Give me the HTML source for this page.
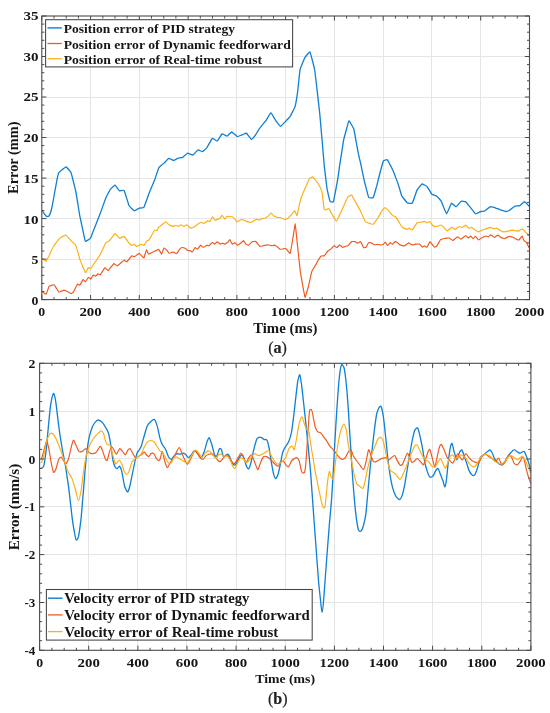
<!DOCTYPE html>
<html><head><meta charset="utf-8"><title>Figure</title>
<style>html,body{margin:0;padding:0;background:#fff}svg{display:block}</style></head>
<body>
<svg width="550" height="713" viewBox="0 0 550 713" fill="#161616">
<rect width="550" height="713" fill="#fff"/>
<line x1="90.5" y1="16.0" x2="90.5" y2="299.6" stroke="#e5e5e5" stroke-width="1"/>
<line x1="139.5" y1="16.0" x2="139.5" y2="299.6" stroke="#e5e5e5" stroke-width="1"/>
<line x1="188.5" y1="16.0" x2="188.5" y2="299.6" stroke="#e5e5e5" stroke-width="1"/>
<line x1="236.5" y1="16.0" x2="236.5" y2="299.6" stroke="#e5e5e5" stroke-width="1"/>
<line x1="285.5" y1="16.0" x2="285.5" y2="299.6" stroke="#e5e5e5" stroke-width="1"/>
<line x1="334.5" y1="16.0" x2="334.5" y2="299.6" stroke="#e5e5e5" stroke-width="1"/>
<line x1="383.5" y1="16.0" x2="383.5" y2="299.6" stroke="#e5e5e5" stroke-width="1"/>
<line x1="431.5" y1="16.0" x2="431.5" y2="299.6" stroke="#e5e5e5" stroke-width="1"/>
<line x1="480.5" y1="16.0" x2="480.5" y2="299.6" stroke="#e5e5e5" stroke-width="1"/>
<line x1="41.8" y1="259.5" x2="529.5" y2="259.5" stroke="#e5e5e5" stroke-width="1"/>
<line x1="41.8" y1="218.5" x2="529.5" y2="218.5" stroke="#e5e5e5" stroke-width="1"/>
<line x1="41.8" y1="178.5" x2="529.5" y2="178.5" stroke="#e5e5e5" stroke-width="1"/>
<line x1="41.8" y1="137.5" x2="529.5" y2="137.5" stroke="#e5e5e5" stroke-width="1"/>
<line x1="41.8" y1="97.5" x2="529.5" y2="97.5" stroke="#e5e5e5" stroke-width="1"/>
<line x1="41.8" y1="56.5" x2="529.5" y2="56.5" stroke="#e5e5e5" stroke-width="1"/>
<g fill="none" stroke-linejoin="round" stroke-linecap="round">
<path d="M42.7,211.4 C42.8,211.5 44.8,214.6 45.0,214.8 C45.2,215.0 46.7,216.5 46.8,216.6 C47.0,216.6 48.9,216.2 49.1,215.9 C49.3,215.6 51.2,210.4 51.4,209.5 C51.6,208.7 53.9,196.7 54.1,195.5 C54.3,194.3 56.9,180.5 57.0,179.5 C57.2,178.6 58.6,173.1 58.9,172.7 C59.1,172.3 62.4,169.6 62.7,169.3 C63.0,169.1 65.8,166.7 66.1,166.8 C66.5,167.0 70.7,171.7 71.1,172.7 C71.5,173.7 75.6,190.3 75.9,192.0 C76.3,193.8 79.5,214.3 79.8,215.9 C80.1,217.5 83.0,230.8 83.2,231.8 C83.4,232.8 85.2,241.1 85.5,241.4 C85.7,241.6 90.0,238.8 90.5,238.2 C90.9,237.5 95.3,226.0 95.7,225.0 C96.1,224.0 99.8,214.7 100.2,213.6 C100.6,212.5 105.5,198.7 105.9,197.7 C106.3,196.7 110.1,189.6 110.5,189.1 C110.8,188.6 114.6,185.2 115.0,185.2 C115.4,185.3 119.2,190.7 119.5,190.9 C119.9,191.1 123.7,189.9 124.1,190.5 C124.5,191.0 128.7,204.9 129.1,205.7 C129.5,206.5 133.9,210.8 134.3,210.9 C134.7,211.0 138.9,208.3 139.3,208.2 C139.7,208.0 143.5,207.9 143.9,207.3 C144.3,206.7 148.7,194.3 149.1,193.2 C149.5,192.1 154.4,180.5 154.8,179.5 C155.2,178.5 158.3,168.8 158.6,168.2 C159.0,167.5 163.8,163.3 164.2,163.0 C164.6,162.6 168.3,158.5 168.6,158.4 C169.0,158.3 173.3,160.5 173.6,160.5 C174.0,160.4 177.8,158.3 178.2,158.2 C178.5,158.1 182.3,157.5 182.7,157.3 C183.1,157.1 187.3,153.3 187.7,153.2 C188.1,153.1 192.5,155.1 193.0,155.0 C193.4,154.9 197.6,149.9 198.0,149.8 C198.3,149.6 202.1,151.7 202.5,151.6 C202.9,151.5 206.7,148.0 207.0,147.5 C207.4,147.0 211.9,138.7 212.3,138.4 C212.7,138.2 216.9,141.3 217.3,141.1 C217.7,141.0 221.7,134.1 222.0,133.9 C222.4,133.7 226.7,136.2 227.0,136.1 C227.4,136.1 231.4,132.0 231.8,132.0 C232.2,132.1 236.9,136.5 237.3,136.6 C237.7,136.7 241.5,135.1 241.8,135.0 C242.2,134.9 246.0,133.0 246.4,133.2 C246.8,133.4 251.2,139.5 251.6,139.5 C252.0,139.6 255.1,135.5 255.5,135.0 C255.8,134.5 260.7,126.9 261.1,126.4 C261.5,125.8 265.3,121.5 265.7,120.9 C266.1,120.4 270.5,112.7 270.9,112.7 C271.3,112.7 275.5,120.4 275.9,120.9 C276.3,121.5 280.1,126.3 280.5,126.4 C280.8,126.4 284.0,123.0 284.4,122.6 C284.8,122.2 289.8,117.0 290.2,116.4 C290.7,115.7 294.9,107.1 295.2,106.1 C295.5,105.1 297.5,92.8 297.7,91.4 C297.9,89.9 299.7,71.1 300.0,69.8 C300.3,68.4 304.6,58.0 305.0,57.3 C305.4,56.6 309.6,51.5 310.0,52.0 C310.4,52.6 314.4,68.0 314.8,70.5 C315.2,72.9 319.4,110.3 319.8,114.1 C320.2,117.9 324.0,163.2 324.3,166.1 C324.6,169.1 326.8,187.2 327.0,188.6 C327.3,190.0 329.7,200.6 330.0,201.1 C330.3,201.7 333.1,202.5 333.4,201.8 C333.7,201.1 336.6,185.5 336.8,184.1 C337.1,182.7 339.3,168.1 339.5,166.4 C339.8,164.6 343.3,142.0 343.6,140.2 C344.0,138.4 348.5,121.3 348.9,120.9 C349.3,120.5 353.5,128.0 353.9,129.3 C354.2,130.6 358.1,152.5 358.4,153.9 C358.7,155.2 360.4,162.5 360.7,163.6 C360.9,164.8 364.2,180.5 364.5,181.8 C364.9,183.2 368.3,196.6 368.6,197.3 C369.0,197.9 372.9,198.2 373.2,197.7 C373.5,197.3 376.3,187.4 376.6,186.4 C376.9,185.4 379.7,173.7 380.0,172.7 C380.3,171.7 383.1,161.4 383.4,160.9 C383.7,160.4 386.9,159.4 387.3,159.8 C387.7,160.2 392.5,169.5 393.0,170.5 C393.4,171.4 397.8,183.1 398.2,184.1 C398.5,185.1 401.4,194.9 401.6,195.5 C401.8,196.0 402.7,197.2 402.9,197.5 C403.2,197.8 407.0,202.7 407.4,202.9 C407.7,203.1 411.9,203.7 412.3,203.1 C412.7,202.6 416.8,190.4 417.2,189.6 C417.6,188.9 421.7,184.1 422.1,184.0 C422.5,183.9 426.6,186.0 427.0,186.5 C427.4,186.9 431.5,193.9 431.9,194.3 C432.3,194.7 436.4,196.0 436.8,196.3 C437.2,196.5 440.8,200.5 441.2,201.2 C441.6,201.9 446.2,213.9 446.6,213.9 C447.0,214.0 451.2,203.4 451.5,203.1 C451.9,202.9 455.6,206.9 456.0,206.8 C456.4,206.7 461.0,201.4 461.4,201.2 C461.8,201.0 465.4,201.6 465.8,201.9 C466.2,202.2 470.8,208.1 471.2,208.5 C471.6,209.0 475.2,213.8 475.6,213.9 C476.0,214.1 480.6,211.6 481.0,211.5 C481.4,211.4 484.3,211.2 484.7,211.0 C485.1,210.8 489.9,206.7 490.3,206.6 C490.8,206.5 495.3,207.9 495.7,208.1 C496.1,208.2 500.2,209.6 500.6,209.8 C501.0,209.9 505.2,211.5 505.5,211.5 C505.9,211.5 508.9,210.7 509.2,210.5 C509.6,210.3 514.5,206.3 514.9,206.1 C515.3,205.9 519.4,205.8 519.8,205.6 C520.2,205.4 524.1,201.7 524.4,201.7 C524.8,201.7 528.9,205.9 529.1,206.1" stroke="#1080d6" stroke-width="1.32"/>
<path d="M42.7,292.0 C42.9,292.1 45.9,294.5 46.1,294.3 C46.4,294.1 48.8,286.7 49.1,286.4 C49.4,286.0 53.7,284.5 54.1,284.8 C54.5,285.0 58.5,291.8 58.9,292.0 C59.3,292.3 63.5,290.2 63.9,290.2 C64.2,290.2 68.1,291.9 68.4,292.0 C68.7,292.2 70.9,293.6 71.1,293.6 C71.3,293.6 73.2,292.4 73.4,292.0 C73.7,291.7 77.2,284.4 77.5,284.1 C77.8,283.8 79.5,285.4 79.8,285.2 C80.0,285.0 83.0,279.7 83.2,279.5 C83.4,279.4 85.2,281.9 85.5,281.8 C85.7,281.7 88.2,277.4 88.4,277.3 C88.6,277.2 90.3,279.2 90.5,279.1 C90.7,279.0 93.2,275.1 93.4,275.0 C93.6,274.9 95.5,276.2 95.7,276.1 C95.9,276.1 97.8,273.9 98.0,273.9 C98.1,273.8 100.0,275.2 100.2,275.0 C100.5,274.8 104.5,267.9 104.8,267.7 C105.1,267.5 107.8,270.6 108.2,270.5 C108.5,270.3 113.5,263.8 113.9,263.6 C114.2,263.5 116.9,266.0 117.3,265.9 C117.7,265.8 123.7,260.4 124.1,260.2 C124.5,260.1 126.5,262.0 126.8,261.8 C127.1,261.6 131.7,255.9 132.0,255.7 C132.3,255.5 134.0,256.9 134.3,256.8 C134.6,256.7 138.9,253.4 139.3,253.4 C139.7,253.5 143.6,258.1 143.9,258.0 C144.1,257.8 146.2,250.2 146.4,250.0 C146.6,249.8 148.3,254.0 148.6,254.1 C149.0,254.1 154.4,251.3 154.8,251.1 C155.2,250.9 158.4,249.2 158.6,249.3 C158.9,249.4 161.4,254.1 161.6,254.1 C161.8,254.0 163.7,248.4 163.9,248.2 C164.1,248.0 166.2,249.6 166.4,249.8 C166.6,250.0 168.8,253.1 169.1,253.2 C169.3,253.3 172.3,252.1 172.5,252.0 C172.7,252.0 174.6,252.7 174.8,252.7 C175.0,252.8 176.8,253.4 177.0,253.2 C177.3,253.0 180.2,248.4 180.5,248.2 C180.7,248.0 182.5,247.5 182.7,247.5 C182.9,247.5 184.8,248.1 185.0,248.2 C185.2,248.3 187.5,250.3 187.7,250.5 C188.0,250.6 190.5,250.8 190.7,250.9 C190.9,251.0 192.1,252.2 192.3,252.0 C192.5,251.9 195.0,247.6 195.2,247.5 C195.4,247.4 197.3,249.4 197.5,249.3 C197.7,249.2 200.2,245.3 200.5,245.2 C200.7,245.2 202.9,247.5 203.2,247.5 C203.4,247.5 206.8,245.3 207.0,245.2 C207.3,245.2 208.7,246.0 208.9,245.9 C209.1,245.8 212.0,242.3 212.3,242.3 C212.5,242.2 214.3,244.1 214.5,244.1 C214.7,244.1 217.0,241.8 217.3,241.8 C217.5,241.8 220.0,244.0 220.2,244.1 C220.4,244.1 222.3,243.0 222.5,243.0 C222.7,243.0 224.5,244.1 224.8,244.1 C225.0,244.0 228.0,242.0 228.2,241.8 C228.4,241.6 229.6,239.5 229.8,239.5 C229.9,239.6 232.1,244.0 232.3,244.1 C232.5,244.2 234.8,242.5 235.0,242.5 C235.2,242.5 237.1,245.2 237.3,245.2 C237.5,245.3 239.3,244.3 239.5,244.1 C239.8,243.9 243.4,240.7 243.6,240.7 C243.9,240.7 245.7,243.9 245.9,244.1 C246.1,244.3 248.4,245.3 248.6,245.2 C248.9,245.1 251.8,242.0 252.0,241.8 C252.3,241.7 255.1,241.2 255.5,241.4 C255.8,241.5 259.7,246.2 260.0,246.4 C260.3,246.5 263.1,245.7 263.4,245.7 C263.7,245.6 267.6,244.8 268.0,244.8 C268.3,244.8 271.1,245.7 271.4,245.7 C271.6,245.7 274.5,245.2 274.8,245.2 C275.0,245.3 278.0,247.3 278.2,247.5 C278.4,247.7 279.8,249.3 280.0,249.3 C280.2,249.4 283.2,248.9 283.4,248.9 C283.6,248.8 285.4,248.2 285.7,248.4 C286.0,248.6 289.9,253.9 290.2,253.4 C290.5,252.9 293.0,237.5 293.2,236.4 C293.4,235.2 295.1,223.7 295.2,223.9 C295.4,224.0 296.8,239.0 297.0,240.9 C297.3,242.9 300.1,270.5 300.5,272.7 C300.8,275.0 304.7,296.7 305.0,297.3 C305.3,297.8 308.1,287.4 308.4,286.4 C308.7,285.3 311.5,272.5 311.8,271.6 C312.1,270.7 316.0,264.3 316.4,263.6 C316.7,263.0 320.6,256.5 320.9,256.1 C321.2,255.8 324.0,255.9 324.3,255.7 C324.6,255.5 327.5,251.4 327.7,251.1 C328.0,250.9 330.9,249.1 331.1,248.9 C331.4,248.6 333.9,245.5 334.1,245.5 C334.3,245.4 336.6,247.8 336.8,247.7 C337.0,247.7 339.3,244.8 339.5,244.8 C339.8,244.8 342.2,247.2 342.5,247.3 C342.8,247.3 347.8,245.7 348.2,245.5 C348.5,245.2 351.3,241.7 351.6,241.6 C351.9,241.4 354.8,241.5 355.0,241.6 C355.2,241.7 357.0,243.2 357.3,243.2 C357.5,243.2 360.4,241.4 360.7,241.6 C360.9,241.8 363.4,247.5 363.6,247.7 C363.8,248.0 365.7,247.5 365.9,247.3 C366.1,247.1 368.4,242.9 368.6,242.7 C368.8,242.5 370.7,242.6 370.9,242.7 C371.1,242.8 374.0,244.7 374.3,244.8 C374.6,244.8 377.5,244.3 377.7,244.3 C378.0,244.3 380.9,245.0 381.1,245.0 C381.4,245.0 383.2,244.4 383.4,244.3 C383.6,244.2 385.1,242.0 385.2,242.0 C385.4,242.1 387.3,245.4 387.5,245.5 C387.7,245.5 390.0,242.8 390.2,242.7 C390.4,242.7 392.3,244.4 392.5,244.3 C392.7,244.3 395.0,241.4 395.2,241.4 C395.5,241.3 398.0,243.0 398.2,243.2 C398.4,243.3 399.8,244.8 400.0,244.9 C400.2,245.0 404.1,245.9 404.4,245.9 C404.8,245.8 408.3,242.9 408.6,242.9 C408.9,242.9 412.0,244.8 412.3,244.9 C412.6,244.9 415.7,244.2 416.0,244.1 C416.2,244.1 419.4,244.0 419.6,244.1 C419.9,244.3 421.9,247.0 422.1,247.1 C422.3,247.2 424.3,245.8 424.5,245.9 C424.7,245.9 426.8,247.5 427.0,247.3 C427.2,247.2 429.7,241.7 429.9,241.7 C430.2,241.7 434.1,246.9 434.4,247.1 C434.6,247.3 436.6,246.4 436.8,246.1 C437.1,245.8 440.2,240.0 440.5,239.7 C440.8,239.4 443.8,238.6 444.2,238.5 C444.5,238.4 448.7,237.9 449.1,238.0 C449.4,238.1 452.4,240.5 452.8,240.5 C453.1,240.4 457.4,236.8 457.7,236.8 C458.0,236.7 460.5,239.3 460.9,239.2 C461.2,239.2 465.5,235.6 465.8,235.5 C466.1,235.5 468.0,238.0 468.2,238.0 C468.4,238.0 470.5,236.0 470.7,236.0 C470.9,236.1 472.9,238.7 473.1,238.7 C473.3,238.7 475.4,236.2 475.6,236.3 C475.8,236.3 478.3,239.9 478.5,240.0 C478.8,240.0 481.9,237.7 482.2,237.5 C482.5,237.4 485.7,236.1 485.9,236.0 C486.2,236.0 488.2,236.8 488.4,236.8 C488.5,236.7 490.1,234.8 490.3,234.8 C490.6,234.8 494.2,237.3 494.5,237.3 C494.8,237.3 497.4,235.1 497.7,235.1 C497.9,235.1 500.4,237.1 500.6,237.3 C500.9,237.4 504.0,238.8 504.3,238.7 C504.7,238.7 508.9,236.3 509.2,236.3 C509.6,236.2 512.6,237.1 512.9,237.3 C513.2,237.4 516.3,239.1 516.6,239.2 C516.8,239.3 518.8,240.1 519.0,240.0 C519.3,239.8 521.8,236.0 522.0,236.0 C522.2,236.1 523.8,240.2 524.0,240.5 C524.1,240.7 526.2,242.1 526.4,242.4 C526.6,242.7 529.0,247.6 529.1,247.8" stroke="#f2581d" stroke-width="1.18"/>
<path d="M42.7,258.6 C42.9,258.7 45.9,261.5 46.1,261.4 C46.4,261.2 48.8,256.3 49.1,255.7 C49.4,255.0 53.7,246.1 54.1,245.5 C54.5,244.8 59.0,239.0 59.3,238.6 C59.7,238.3 62.5,236.5 62.7,236.4 C63.0,236.2 65.8,235.0 66.1,235.2 C66.5,235.4 70.7,240.5 71.1,240.9 C71.5,241.3 75.6,244.7 75.9,245.5 C76.3,246.2 79.4,258.0 79.8,259.1 C80.2,260.2 85.1,272.4 85.5,272.7 C85.8,273.1 88.2,267.7 88.4,267.5 C88.6,267.3 90.2,268.9 90.5,268.6 C90.7,268.4 95.3,261.9 95.7,261.4 C96.1,260.8 99.8,255.3 100.2,254.5 C100.6,253.8 105.5,243.3 105.9,242.7 C106.3,242.2 109.0,241.3 109.3,240.9 C109.7,240.5 114.6,233.7 115.0,233.6 C115.4,233.5 119.2,238.1 119.5,238.2 C119.9,238.3 123.7,236.2 124.1,236.4 C124.5,236.6 128.8,242.8 129.1,243.2 C129.4,243.5 131.8,245.4 132.0,245.5 C132.3,245.5 134.1,244.3 134.3,244.3 C134.5,244.4 136.3,246.6 136.6,246.6 C136.9,246.6 140.8,244.4 141.1,244.3 C141.4,244.3 143.6,245.6 143.9,245.5 C144.1,245.3 146.6,241.1 146.8,240.9 C147.0,240.7 148.8,240.2 149.1,239.8 C149.4,239.3 154.5,230.4 154.8,230.0 C155.1,229.6 156.9,230.8 157.0,230.7 C157.2,230.6 158.5,227.5 158.6,227.3 C158.8,227.0 161.4,225.2 161.6,225.0 C161.8,224.8 163.7,223.3 163.9,223.2 C164.0,223.1 165.5,221.8 165.7,221.8 C165.9,221.9 168.8,224.6 169.1,224.8 C169.4,225.0 172.2,226.3 172.5,226.4 C172.8,226.4 175.7,225.5 175.9,225.5 C176.1,225.5 178.0,226.4 178.2,226.4 C178.4,226.3 180.7,224.8 180.9,224.8 C181.1,224.8 183.6,226.4 183.9,226.4 C184.1,226.4 186.5,224.7 186.8,224.8 C187.1,224.8 190.4,228.1 190.7,228.2 C191.0,228.3 193.8,227.2 194.1,227.0 C194.4,226.9 197.2,224.5 197.5,224.3 C197.8,224.1 200.6,222.5 200.9,222.5 C201.2,222.5 204.0,223.2 204.3,223.2 C204.6,223.1 207.5,221.0 207.7,220.9 C208.0,220.8 209.8,221.5 210.0,221.4 C210.2,221.2 212.5,216.9 212.7,216.8 C212.9,216.8 214.8,220.1 215.0,220.2 C215.2,220.3 217.7,219.2 218.0,219.1 C218.2,219.0 220.1,218.6 220.2,218.4 C220.4,218.2 221.9,215.0 222.0,215.0 C222.2,215.0 224.6,219.0 224.8,219.1 C225.0,219.1 226.7,216.5 227.0,216.4 C227.3,216.3 232.0,216.7 232.3,216.8 C232.6,216.9 234.8,218.9 235.0,219.1 C235.2,219.3 236.6,222.0 236.8,222.0 C237.0,222.1 239.3,220.3 239.5,220.2 C239.8,220.1 242.7,219.7 243.0,219.8 C243.2,219.8 246.0,221.3 246.4,221.4 C246.7,221.5 250.6,222.5 250.9,222.5 C251.2,222.5 253.4,221.0 253.6,220.9 C253.9,220.8 256.4,219.1 256.6,219.1 C256.8,219.1 258.6,220.2 258.9,220.2 C259.1,220.2 262.0,218.7 262.3,218.6 C262.5,218.5 264.8,218.0 265.0,218.0 C265.2,217.9 267.7,216.6 268.0,216.4 C268.2,216.2 270.7,213.0 270.9,213.0 C271.1,212.9 273.4,215.5 273.6,215.7 C273.9,215.9 276.8,217.2 277.0,217.3 C277.3,217.3 279.9,217.4 280.2,217.5 C280.5,217.6 284.2,219.3 284.5,219.3 C284.9,219.3 287.7,218.4 288.0,218.2 C288.2,218.0 291.1,215.1 291.4,214.8 C291.6,214.5 294.5,210.9 294.8,210.9 C295.0,210.9 296.8,215.9 297.0,215.5 C297.3,215.0 300.1,201.1 300.5,200.0 C300.8,198.9 304.6,189.5 305.0,188.6 C305.4,187.8 309.2,178.9 309.5,178.4 C309.8,177.9 312.3,176.8 312.5,176.8 C312.7,176.9 314.9,179.2 315.2,179.5 C315.5,179.9 319.5,185.9 319.8,186.4 C320.0,186.9 321.9,191.1 322.0,192.0 C322.2,193.0 324.0,209.1 324.3,209.8 C324.6,210.4 328.5,208.4 328.9,208.6 C329.2,208.8 332.0,214.3 332.3,214.8 C332.6,215.3 336.0,221.2 336.4,221.1 C336.7,221.1 339.9,214.3 340.2,213.6 C340.6,212.9 344.5,204.1 344.8,203.4 C345.1,202.7 347.9,196.9 348.2,196.6 C348.5,196.3 351.3,194.8 351.6,195.0 C351.9,195.2 354.6,200.5 355.0,201.1 C355.4,201.8 360.3,210.5 360.7,211.4 C361.1,212.2 364.9,221.1 365.2,221.6 C365.6,222.1 369.5,223.3 369.8,223.4 C370.1,223.5 372.9,224.5 373.2,224.3 C373.5,224.1 377.4,218.7 377.7,218.2 C378.1,217.6 382.0,210.7 382.3,210.2 C382.6,209.8 385.0,207.5 385.2,207.5 C385.5,207.5 388.8,211.0 389.1,211.4 C389.4,211.7 392.2,215.2 392.5,215.5 C392.8,215.7 395.6,216.8 395.9,217.0 C396.2,217.3 399.0,222.3 399.3,222.7 C399.6,223.2 402.6,227.4 402.9,227.7 C403.3,228.0 407.1,229.4 407.4,229.4 C407.6,229.4 409.1,228.2 409.3,228.2 C409.5,228.2 412.0,230.1 412.3,229.9 C412.6,229.7 416.8,223.1 417.2,222.8 C417.6,222.5 421.8,222.1 422.1,222.0 C422.4,222.0 424.3,221.3 424.5,221.3 C424.7,221.3 426.8,222.8 427.0,222.8 C427.2,222.8 429.2,221.4 429.5,221.6 C429.7,221.7 432.8,225.5 433.1,225.7 C433.4,225.9 436.5,226.5 436.8,226.5 C437.1,226.4 440.9,224.9 441.2,225.0 C441.5,225.0 443.9,227.4 444.2,227.7 C444.4,227.9 446.8,231.1 447.1,231.1 C447.4,231.1 451.2,227.5 451.5,227.4 C451.9,227.4 454.9,229.4 455.2,229.4 C455.5,229.4 458.6,226.5 458.9,226.5 C459.2,226.4 462.3,227.5 462.6,227.4 C462.9,227.4 465.5,225.2 465.8,225.2 C466.0,225.3 468.5,228.1 468.7,228.2 C469.0,228.3 471.4,227.4 471.7,227.4 C471.9,227.5 474.6,229.7 474.9,229.9 C475.1,230.1 478.3,231.9 478.5,231.9 C478.8,231.9 481.9,230.3 482.2,230.1 C482.5,230.0 485.6,229.0 485.9,228.9 C486.2,228.8 490.0,227.5 490.3,227.4 C490.6,227.4 493.0,228.6 493.3,228.7 C493.5,228.7 496.7,228.1 497.0,228.2 C497.2,228.3 500.4,230.5 500.6,230.6 C500.9,230.8 502.8,231.8 503.1,231.9 C503.4,231.9 507.7,231.2 508.0,231.1 C508.3,231.1 511.4,230.2 511.7,230.1 C512.0,230.1 515.1,230.6 515.4,230.6 C515.6,230.7 518.3,231.2 518.6,231.1 C518.8,231.0 521.7,228.6 522.0,228.7 C522.3,228.7 524.9,231.6 525.2,231.9 C525.5,232.1 529.0,235.4 529.1,235.5" stroke="#fbb017" stroke-width="1.18"/>
</g>
<path d="M41.8,299.6v-4.6M41.8,16.0v4.6" stroke="#4a4a4a" stroke-width="1" fill="none"/>
<path d="M90.6,299.6v-4.6M90.6,16.0v4.6" stroke="#4a4a4a" stroke-width="1" fill="none"/>
<path d="M139.3,299.6v-4.6M139.3,16.0v4.6" stroke="#4a4a4a" stroke-width="1" fill="none"/>
<path d="M188.1,299.6v-4.6M188.1,16.0v4.6" stroke="#4a4a4a" stroke-width="1" fill="none"/>
<path d="M236.9,299.6v-4.6M236.9,16.0v4.6" stroke="#4a4a4a" stroke-width="1" fill="none"/>
<path d="M285.6,299.6v-4.6M285.6,16.0v4.6" stroke="#4a4a4a" stroke-width="1" fill="none"/>
<path d="M334.4,299.6v-4.6M334.4,16.0v4.6" stroke="#4a4a4a" stroke-width="1" fill="none"/>
<path d="M383.2,299.6v-4.6M383.2,16.0v4.6" stroke="#4a4a4a" stroke-width="1" fill="none"/>
<path d="M432.0,299.6v-4.6M432.0,16.0v4.6" stroke="#4a4a4a" stroke-width="1" fill="none"/>
<path d="M480.7,299.6v-4.6M480.7,16.0v4.6" stroke="#4a4a4a" stroke-width="1" fill="none"/>
<path d="M529.5,299.6v-4.6M529.5,16.0v4.6" stroke="#4a4a4a" stroke-width="1" fill="none"/>
<path d="M54.0,299.6v-2.5M54.0,16.0v2.5" stroke="#4a4a4a" stroke-width="1" fill="none"/>
<path d="M66.2,299.6v-2.5M66.2,16.0v2.5" stroke="#4a4a4a" stroke-width="1" fill="none"/>
<path d="M78.4,299.6v-2.5M78.4,16.0v2.5" stroke="#4a4a4a" stroke-width="1" fill="none"/>
<path d="M102.8,299.6v-2.5M102.8,16.0v2.5" stroke="#4a4a4a" stroke-width="1" fill="none"/>
<path d="M115.0,299.6v-2.5M115.0,16.0v2.5" stroke="#4a4a4a" stroke-width="1" fill="none"/>
<path d="M127.1,299.6v-2.5M127.1,16.0v2.5" stroke="#4a4a4a" stroke-width="1" fill="none"/>
<path d="M151.5,299.6v-2.5M151.5,16.0v2.5" stroke="#4a4a4a" stroke-width="1" fill="none"/>
<path d="M163.7,299.6v-2.5M163.7,16.0v2.5" stroke="#4a4a4a" stroke-width="1" fill="none"/>
<path d="M175.9,299.6v-2.5M175.9,16.0v2.5" stroke="#4a4a4a" stroke-width="1" fill="none"/>
<path d="M200.3,299.6v-2.5M200.3,16.0v2.5" stroke="#4a4a4a" stroke-width="1" fill="none"/>
<path d="M212.5,299.6v-2.5M212.5,16.0v2.5" stroke="#4a4a4a" stroke-width="1" fill="none"/>
<path d="M224.7,299.6v-2.5M224.7,16.0v2.5" stroke="#4a4a4a" stroke-width="1" fill="none"/>
<path d="M249.1,299.6v-2.5M249.1,16.0v2.5" stroke="#4a4a4a" stroke-width="1" fill="none"/>
<path d="M261.3,299.6v-2.5M261.3,16.0v2.5" stroke="#4a4a4a" stroke-width="1" fill="none"/>
<path d="M273.5,299.6v-2.5M273.5,16.0v2.5" stroke="#4a4a4a" stroke-width="1" fill="none"/>
<path d="M297.8,299.6v-2.5M297.8,16.0v2.5" stroke="#4a4a4a" stroke-width="1" fill="none"/>
<path d="M310.0,299.6v-2.5M310.0,16.0v2.5" stroke="#4a4a4a" stroke-width="1" fill="none"/>
<path d="M322.2,299.6v-2.5M322.2,16.0v2.5" stroke="#4a4a4a" stroke-width="1" fill="none"/>
<path d="M346.6,299.6v-2.5M346.6,16.0v2.5" stroke="#4a4a4a" stroke-width="1" fill="none"/>
<path d="M358.8,299.6v-2.5M358.8,16.0v2.5" stroke="#4a4a4a" stroke-width="1" fill="none"/>
<path d="M371.0,299.6v-2.5M371.0,16.0v2.5" stroke="#4a4a4a" stroke-width="1" fill="none"/>
<path d="M395.4,299.6v-2.5M395.4,16.0v2.5" stroke="#4a4a4a" stroke-width="1" fill="none"/>
<path d="M407.6,299.6v-2.5M407.6,16.0v2.5" stroke="#4a4a4a" stroke-width="1" fill="none"/>
<path d="M419.8,299.6v-2.5M419.8,16.0v2.5" stroke="#4a4a4a" stroke-width="1" fill="none"/>
<path d="M444.2,299.6v-2.5M444.2,16.0v2.5" stroke="#4a4a4a" stroke-width="1" fill="none"/>
<path d="M456.3,299.6v-2.5M456.3,16.0v2.5" stroke="#4a4a4a" stroke-width="1" fill="none"/>
<path d="M468.5,299.6v-2.5M468.5,16.0v2.5" stroke="#4a4a4a" stroke-width="1" fill="none"/>
<path d="M492.9,299.6v-2.5M492.9,16.0v2.5" stroke="#4a4a4a" stroke-width="1" fill="none"/>
<path d="M505.1,299.6v-2.5M505.1,16.0v2.5" stroke="#4a4a4a" stroke-width="1" fill="none"/>
<path d="M517.3,299.6v-2.5M517.3,16.0v2.5" stroke="#4a4a4a" stroke-width="1" fill="none"/>
<path d="M41.8,299.6h4.6M529.5,299.6h-4.6" stroke="#4a4a4a" stroke-width="1" fill="none"/>
<path d="M41.8,259.1h4.6M529.5,259.1h-4.6" stroke="#4a4a4a" stroke-width="1" fill="none"/>
<path d="M41.8,218.6h4.6M529.5,218.6h-4.6" stroke="#4a4a4a" stroke-width="1" fill="none"/>
<path d="M41.8,178.1h4.6M529.5,178.1h-4.6" stroke="#4a4a4a" stroke-width="1" fill="none"/>
<path d="M41.8,137.5h4.6M529.5,137.5h-4.6" stroke="#4a4a4a" stroke-width="1" fill="none"/>
<path d="M41.8,97.0h4.6M529.5,97.0h-4.6" stroke="#4a4a4a" stroke-width="1" fill="none"/>
<path d="M41.8,56.5h4.6M529.5,56.5h-4.6" stroke="#4a4a4a" stroke-width="1" fill="none"/>
<path d="M41.8,16.0h4.6M529.5,16.0h-4.6" stroke="#4a4a4a" stroke-width="1" fill="none"/>
<path d="M41.8,291.5h2.5M529.5,291.5h-2.5" stroke="#4a4a4a" stroke-width="1" fill="none"/>
<path d="M41.8,283.4h2.5M529.5,283.4h-2.5" stroke="#4a4a4a" stroke-width="1" fill="none"/>
<path d="M41.8,275.3h2.5M529.5,275.3h-2.5" stroke="#4a4a4a" stroke-width="1" fill="none"/>
<path d="M41.8,267.2h2.5M529.5,267.2h-2.5" stroke="#4a4a4a" stroke-width="1" fill="none"/>
<path d="M41.8,251.0h2.5M529.5,251.0h-2.5" stroke="#4a4a4a" stroke-width="1" fill="none"/>
<path d="M41.8,242.9h2.5M529.5,242.9h-2.5" stroke="#4a4a4a" stroke-width="1" fill="none"/>
<path d="M41.8,234.8h2.5M529.5,234.8h-2.5" stroke="#4a4a4a" stroke-width="1" fill="none"/>
<path d="M41.8,226.7h2.5M529.5,226.7h-2.5" stroke="#4a4a4a" stroke-width="1" fill="none"/>
<path d="M41.8,210.5h2.5M529.5,210.5h-2.5" stroke="#4a4a4a" stroke-width="1" fill="none"/>
<path d="M41.8,202.4h2.5M529.5,202.4h-2.5" stroke="#4a4a4a" stroke-width="1" fill="none"/>
<path d="M41.8,194.3h2.5M529.5,194.3h-2.5" stroke="#4a4a4a" stroke-width="1" fill="none"/>
<path d="M41.8,186.2h2.5M529.5,186.2h-2.5" stroke="#4a4a4a" stroke-width="1" fill="none"/>
<path d="M41.8,170.0h2.5M529.5,170.0h-2.5" stroke="#4a4a4a" stroke-width="1" fill="none"/>
<path d="M41.8,161.9h2.5M529.5,161.9h-2.5" stroke="#4a4a4a" stroke-width="1" fill="none"/>
<path d="M41.8,153.7h2.5M529.5,153.7h-2.5" stroke="#4a4a4a" stroke-width="1" fill="none"/>
<path d="M41.8,145.6h2.5M529.5,145.6h-2.5" stroke="#4a4a4a" stroke-width="1" fill="none"/>
<path d="M41.8,129.4h2.5M529.5,129.4h-2.5" stroke="#4a4a4a" stroke-width="1" fill="none"/>
<path d="M41.8,121.3h2.5M529.5,121.3h-2.5" stroke="#4a4a4a" stroke-width="1" fill="none"/>
<path d="M41.8,113.2h2.5M529.5,113.2h-2.5" stroke="#4a4a4a" stroke-width="1" fill="none"/>
<path d="M41.8,105.1h2.5M529.5,105.1h-2.5" stroke="#4a4a4a" stroke-width="1" fill="none"/>
<path d="M41.8,88.9h2.5M529.5,88.9h-2.5" stroke="#4a4a4a" stroke-width="1" fill="none"/>
<path d="M41.8,80.8h2.5M529.5,80.8h-2.5" stroke="#4a4a4a" stroke-width="1" fill="none"/>
<path d="M41.8,72.7h2.5M529.5,72.7h-2.5" stroke="#4a4a4a" stroke-width="1" fill="none"/>
<path d="M41.8,64.6h2.5M529.5,64.6h-2.5" stroke="#4a4a4a" stroke-width="1" fill="none"/>
<path d="M41.8,48.4h2.5M529.5,48.4h-2.5" stroke="#4a4a4a" stroke-width="1" fill="none"/>
<path d="M41.8,40.3h2.5M529.5,40.3h-2.5" stroke="#4a4a4a" stroke-width="1" fill="none"/>
<path d="M41.8,32.2h2.5M529.5,32.2h-2.5" stroke="#4a4a4a" stroke-width="1" fill="none"/>
<path d="M41.8,24.1h2.5M529.5,24.1h-2.5" stroke="#4a4a4a" stroke-width="1" fill="none"/>
<rect x="41.8" y="16.0" width="487.7" height="283.6" fill="none" stroke="#4a4a4a" stroke-width="1.1"/>
<text x="41.8" y="316.1" text-anchor="middle" font-size="13.0" font-family="Liberation Serif, serif" font-weight="bold" textLength="6.9" lengthAdjust="spacingAndGlyphs">0</text>
<text x="90.6" y="316.1" text-anchor="middle" font-size="13.0" font-family="Liberation Serif, serif" font-weight="bold" textLength="22.3" lengthAdjust="spacingAndGlyphs">200</text>
<text x="139.3" y="316.1" text-anchor="middle" font-size="13.0" font-family="Liberation Serif, serif" font-weight="bold" textLength="22.3" lengthAdjust="spacingAndGlyphs">400</text>
<text x="188.1" y="316.1" text-anchor="middle" font-size="13.0" font-family="Liberation Serif, serif" font-weight="bold" textLength="22.3" lengthAdjust="spacingAndGlyphs">600</text>
<text x="236.9" y="316.1" text-anchor="middle" font-size="13.0" font-family="Liberation Serif, serif" font-weight="bold" textLength="22.3" lengthAdjust="spacingAndGlyphs">800</text>
<text x="285.6" y="316.1" text-anchor="middle" font-size="13.0" font-family="Liberation Serif, serif" font-weight="bold" textLength="29.6" lengthAdjust="spacingAndGlyphs">1000</text>
<text x="334.4" y="316.1" text-anchor="middle" font-size="13.0" font-family="Liberation Serif, serif" font-weight="bold" textLength="29.6" lengthAdjust="spacingAndGlyphs">1200</text>
<text x="383.2" y="316.1" text-anchor="middle" font-size="13.0" font-family="Liberation Serif, serif" font-weight="bold" textLength="29.6" lengthAdjust="spacingAndGlyphs">1400</text>
<text x="432.0" y="316.1" text-anchor="middle" font-size="13.0" font-family="Liberation Serif, serif" font-weight="bold" textLength="29.6" lengthAdjust="spacingAndGlyphs">1600</text>
<text x="480.7" y="316.1" text-anchor="middle" font-size="13.0" font-family="Liberation Serif, serif" font-weight="bold" textLength="29.6" lengthAdjust="spacingAndGlyphs">1800</text>
<text x="529.5" y="316.1" text-anchor="middle" font-size="13.0" font-family="Liberation Serif, serif" font-weight="bold" textLength="29.6" lengthAdjust="spacingAndGlyphs">2000</text>
<text x="38.4" y="305.0" text-anchor="end" font-size="13.0" font-family="Liberation Serif, serif" font-weight="bold" textLength="6.9" lengthAdjust="spacingAndGlyphs">0</text>
<text x="38.4" y="264.3" text-anchor="end" font-size="13.0" font-family="Liberation Serif, serif" font-weight="bold" textLength="6.9" lengthAdjust="spacingAndGlyphs">5</text>
<text x="38.4" y="223.5" text-anchor="end" font-size="13.0" font-family="Liberation Serif, serif" font-weight="bold" textLength="15.0" lengthAdjust="spacingAndGlyphs">10</text>
<text x="38.4" y="182.8" text-anchor="end" font-size="13.0" font-family="Liberation Serif, serif" font-weight="bold" textLength="15.0" lengthAdjust="spacingAndGlyphs">15</text>
<text x="38.4" y="142.1" text-anchor="end" font-size="13.0" font-family="Liberation Serif, serif" font-weight="bold" textLength="15.0" lengthAdjust="spacingAndGlyphs">20</text>
<text x="38.4" y="101.4" text-anchor="end" font-size="13.0" font-family="Liberation Serif, serif" font-weight="bold" textLength="15.0" lengthAdjust="spacingAndGlyphs">25</text>
<text x="38.4" y="60.6" text-anchor="end" font-size="13.0" font-family="Liberation Serif, serif" font-weight="bold" textLength="15.0" lengthAdjust="spacingAndGlyphs">30</text>
<text x="38.4" y="19.9" text-anchor="end" font-size="13.0" font-family="Liberation Serif, serif" font-weight="bold" textLength="15.0" lengthAdjust="spacingAndGlyphs">35</text>
<rect x="45.6" y="19.7" width="247.0" height="47.2" fill="#fff" stroke="#454545" stroke-width="1.05"/>
<line x1="47.5" y1="27.9" x2="61.8" y2="27.9" stroke="#1080d6" stroke-width="1.4200000000000002"/>
<text x="63.7" y="32.7" font-size="13.3" font-family="Liberation Serif, serif" font-weight="bold" textLength="171.4" lengthAdjust="spacingAndGlyphs">Position error of PID strategy</text>
<line x1="47.5" y1="43.5" x2="61.8" y2="43.5" stroke="#f2581d" stroke-width="1.28"/>
<text x="63.7" y="48.6" font-size="13.3" font-family="Liberation Serif, serif" font-weight="bold" textLength="227.1" lengthAdjust="spacingAndGlyphs">Position error of Dynamic feedforward</text>
<line x1="47.5" y1="58.7" x2="61.8" y2="58.7" stroke="#fbb017" stroke-width="1.28"/>
<text x="63.7" y="64.1" font-size="13.3" font-family="Liberation Serif, serif" font-weight="bold" textLength="198.4" lengthAdjust="spacingAndGlyphs">Position error of Real-time robust</text>
<text x="285.3" y="332.7" text-anchor="middle" font-size="13.6" font-family="Liberation Serif, serif" font-weight="bold" textLength="64.3" lengthAdjust="spacingAndGlyphs">Time (ms)</text>
<text transform="translate(17.9,157.7) rotate(-90)" text-anchor="middle" font-size="14" font-family="Liberation Serif, serif" font-weight="bold" textLength="72.4" lengthAdjust="spacingAndGlyphs">Error (mm)</text>
<text x="277.5" y="353.0" text-anchor="middle" font-size="16" font-family="Liberation Serif, serif" fill="#222" stroke="#222" stroke-width="0.2">(<tspan font-weight="bold">a</tspan>)</text>
<line x1="88.5" y1="363.3" x2="88.5" y2="650.3" stroke="#e5e5e5" stroke-width="1"/>
<line x1="137.5" y1="363.3" x2="137.5" y2="650.3" stroke="#e5e5e5" stroke-width="1"/>
<line x1="186.5" y1="363.3" x2="186.5" y2="650.3" stroke="#e5e5e5" stroke-width="1"/>
<line x1="236.5" y1="363.3" x2="236.5" y2="650.3" stroke="#e5e5e5" stroke-width="1"/>
<line x1="285.5" y1="363.3" x2="285.5" y2="650.3" stroke="#e5e5e5" stroke-width="1"/>
<line x1="334.5" y1="363.3" x2="334.5" y2="650.3" stroke="#e5e5e5" stroke-width="1"/>
<line x1="383.5" y1="363.3" x2="383.5" y2="650.3" stroke="#e5e5e5" stroke-width="1"/>
<line x1="432.5" y1="363.3" x2="432.5" y2="650.3" stroke="#e5e5e5" stroke-width="1"/>
<line x1="481.5" y1="363.3" x2="481.5" y2="650.3" stroke="#e5e5e5" stroke-width="1"/>
<line x1="39.6" y1="602.5" x2="530.9" y2="602.5" stroke="#e5e5e5" stroke-width="1"/>
<line x1="39.6" y1="554.5" x2="530.9" y2="554.5" stroke="#e5e5e5" stroke-width="1"/>
<line x1="39.6" y1="506.5" x2="530.9" y2="506.5" stroke="#e5e5e5" stroke-width="1"/>
<line x1="39.6" y1="458.5" x2="530.9" y2="458.5" stroke="#e5e5e5" stroke-width="1"/>
<line x1="39.6" y1="411.5" x2="530.9" y2="411.5" stroke="#e5e5e5" stroke-width="1"/>
<g fill="none" stroke-linejoin="round" stroke-linecap="round">
<path d="M40.7,468.4 C41.1,468.2 43.1,468.0 43.7,466.1 C44.3,464.3 45.5,455.5 46.0,451.4 C46.5,447.2 47.7,433.6 48.2,428.6 C48.7,423.6 49.9,409.8 50.5,405.9 C51.1,402.0 52.9,393.9 53.5,393.4 C54.0,392.9 55.2,398.0 55.7,401.4 C56.3,404.7 57.8,419.1 58.5,424.1 C59.1,429.1 61.1,442.3 61.9,446.8 C62.6,451.3 64.5,460.5 65.3,465.0 C66.0,469.5 67.9,482.0 68.7,487.7 C69.4,493.5 71.5,512.4 72.1,517.3 C72.7,522.1 73.9,529.5 74.4,532.0 C74.8,534.5 75.7,539.5 76.2,540.0 C76.6,540.5 77.9,539.1 78.5,536.6 C79.0,534.1 80.6,522.4 81.2,517.3 C81.7,512.1 82.9,496.5 83.5,490.0 C84.0,483.5 85.6,463.9 86.2,458.2 C86.8,452.4 88.4,441.2 89.1,437.7 C89.8,434.2 91.8,428.2 92.5,426.4 C93.3,424.6 95.3,422.1 96.0,421.4 C96.6,420.7 97.6,419.9 98.2,420.0 C98.9,420.1 100.9,421.1 101.6,421.8 C102.4,422.5 104.3,425.1 105.0,426.4 C105.8,427.6 107.8,431.2 108.5,433.2 C109.1,435.2 110.2,441.5 110.7,444.5 C111.2,447.5 112.5,458.0 113.0,460.5 C113.5,463.0 114.8,466.4 115.3,467.3 C115.8,468.1 117.1,468.5 117.5,468.4 C118.0,468.3 118.9,465.9 119.4,466.1 C119.8,466.4 121.1,468.6 121.6,470.7 C122.2,472.8 123.9,483.3 124.4,485.5 C124.9,487.6 125.8,489.3 126.2,490.0 C126.6,490.7 127.3,492.3 127.8,491.8 C128.2,491.3 129.4,488.0 130.0,485.5 C130.7,482.9 132.7,471.9 133.5,468.4 C134.2,464.9 136.2,455.6 136.9,453.6 C137.5,451.6 138.6,451.1 139.1,450.2 C139.6,449.4 140.9,447.1 141.4,445.7 C141.9,444.3 143.1,439.9 143.7,437.7 C144.3,435.6 146.3,428.1 147.1,426.4 C147.8,424.6 149.7,422.6 150.5,421.8 C151.3,421.1 153.6,419.0 154.4,419.5 C155.1,420.0 156.7,424.4 157.3,426.4 C157.9,428.4 159.3,435.7 159.8,437.7 C160.3,439.7 161.6,443.2 162.3,444.5 C162.9,445.8 165.0,448.2 165.7,449.5 C166.4,450.9 168.0,456.0 168.6,457.0 C169.3,458.1 170.8,459.4 171.4,459.3 C172.0,459.2 173.5,456.5 174.1,455.9 C174.7,455.3 176.4,453.8 177.0,453.6 C177.7,453.5 179.4,454.4 180.0,454.3 C180.6,454.3 182.1,453.2 182.7,453.2 C183.3,453.2 184.8,453.8 185.5,454.3 C186.1,454.8 187.8,457.7 188.4,457.7 C189.1,457.8 190.7,455.5 191.4,454.8 C192.0,454.0 193.4,451.1 194.1,450.9 C194.8,450.7 196.8,452.4 197.5,453.2 C198.2,453.9 200.2,457.9 200.9,457.7 C201.7,457.5 203.6,453.2 204.3,451.4 C205.0,449.5 206.7,442.6 207.3,441.1 C207.8,439.6 208.8,437.4 209.3,437.7 C209.8,438.1 211.2,442.7 211.8,444.5 C212.4,446.4 214.0,453.5 214.5,454.8 C215.1,456.0 216.3,456.6 216.8,455.9 C217.4,455.2 219.0,449.3 219.5,448.6 C220.0,447.9 220.9,448.6 221.4,449.5 C221.8,450.5 223.0,456.5 223.6,457.0 C224.3,457.6 226.4,454.4 227.0,454.3 C227.7,454.2 228.7,454.9 229.3,455.9 C229.9,456.9 231.6,462.2 232.3,463.2 C232.9,464.2 234.3,465.4 235.0,465.0 C235.7,464.6 237.7,460.4 238.4,459.3 C239.1,458.2 240.8,455.0 241.4,454.8 C241.9,454.5 243.1,455.8 243.6,457.0 C244.2,458.3 245.8,464.8 246.4,466.1 C246.9,467.4 248.1,469.2 248.6,468.9 C249.1,468.5 250.4,464.8 250.9,462.7 C251.5,460.7 253.0,452.8 253.6,450.2 C254.3,447.7 256.0,441.0 256.6,439.5 C257.2,438.1 258.3,437.5 258.9,437.3 C259.4,437.1 261.0,437.5 261.6,437.7 C262.2,438.0 263.5,439.3 264.1,439.5 C264.7,439.8 266.3,439.1 266.8,440.0 C267.4,440.9 268.6,445.5 269.1,448.0 C269.6,450.5 270.9,459.9 271.4,462.7 C271.9,465.6 273.2,472.3 273.6,474.1 C274.1,475.8 275.0,478.5 275.5,478.6 C275.9,478.8 277.2,476.8 277.7,475.2 C278.3,473.7 279.7,467.3 280.2,464.8 C280.8,462.2 282.1,454.3 282.7,452.3 C283.3,450.2 285.0,447.5 285.7,446.4 C286.3,445.2 288.0,443.3 288.6,441.8 C289.3,440.3 290.8,435.5 291.4,432.7 C291.9,430.0 293.1,420.8 293.6,416.8 C294.1,412.8 295.5,400.2 295.9,396.4 C296.4,392.5 297.3,384.0 297.7,381.6 C298.2,379.2 299.3,374.4 299.8,374.8 C300.2,375.1 301.1,381.6 301.6,385.0 C302.0,388.4 303.4,401.0 303.9,405.5 C304.4,410.0 305.6,421.2 306.1,425.9 C306.6,430.7 307.9,443.4 308.4,448.6 C308.9,453.9 310.1,466.6 310.7,473.6 C311.2,480.7 312.9,504.3 313.5,513.0 C314.1,521.6 315.8,544.7 316.4,552.3 C316.9,559.8 318.2,576.6 318.6,581.8 C319.1,587.1 320.1,596.6 320.5,600.0 C320.8,603.4 321.7,612.5 322.0,612.5 C322.4,612.5 323.3,604.1 323.6,600.0 C324.0,595.9 325.0,581.0 325.5,575.0 C325.9,569.0 327.3,551.2 327.7,545.5 C328.2,539.7 329.1,528.1 329.5,522.7 C330.0,517.3 331.4,502.3 331.8,496.4 C332.2,490.5 333.1,475.3 333.4,469.1 C333.8,462.8 334.6,446.0 335.0,439.5 C335.4,433.0 336.4,416.0 336.8,410.0 C337.2,404.0 338.3,389.4 338.6,385.0 C339.0,380.6 339.9,372.5 340.2,370.2 C340.6,368.0 341.4,364.8 341.8,364.5 C342.2,364.3 343.6,366.2 344.1,368.0 C344.5,369.7 345.5,376.8 345.9,380.5 C346.3,384.1 347.4,395.9 347.7,400.9 C348.1,405.9 349.0,420.4 349.3,425.9 C349.7,431.4 350.5,445.2 350.9,450.9 C351.3,456.7 352.2,471.5 352.7,478.2 C353.2,484.9 354.9,506.1 355.6,511.8 C356.2,517.5 357.9,528.0 358.5,530.1 C359.2,532.2 360.8,531.2 361.4,530.7 C361.9,530.1 363.1,526.9 363.6,525.0 C364.1,523.1 365.5,516.8 365.9,513.6 C366.3,510.5 367.1,501.0 367.5,496.4 C367.9,491.7 369.3,476.4 369.8,471.4 C370.3,466.4 371.5,455.4 372.0,450.9 C372.5,446.4 373.8,434.5 374.3,430.5 C374.8,426.5 376.1,417.0 376.6,414.5 C377.1,412.0 378.4,408.6 378.9,407.7 C379.4,406.9 380.6,405.6 381.1,406.6 C381.6,407.6 382.9,413.4 383.4,416.8 C383.9,420.2 385.2,432.5 385.7,437.3 C386.2,442.0 387.5,455.8 388.0,460.0 C388.5,464.2 389.7,472.9 390.2,475.9 C390.7,478.9 391.9,485.0 392.5,487.3 C393.1,489.5 395.1,495.0 395.9,496.4 C396.7,497.7 399.0,499.5 399.7,499.5 C400.3,499.4 401.5,497.3 402.0,495.9 C402.5,494.5 403.8,489.4 404.4,486.4 C405.0,483.3 406.8,472.0 407.4,468.5 C408.0,464.9 409.3,456.8 409.8,453.7 C410.4,450.6 411.7,442.8 412.3,440.2 C412.8,437.7 414.1,431.8 414.7,430.4 C415.3,429.1 417.1,427.3 417.7,428.0 C418.3,428.6 419.6,434.3 420.1,436.5 C420.7,438.8 422.0,445.8 422.6,448.8 C423.1,451.8 424.5,461.0 425.0,463.5 C425.6,466.1 427.0,470.7 427.5,472.1 C428.0,473.6 429.3,476.6 429.9,477.0 C430.6,477.5 432.5,476.5 433.1,475.8 C433.8,475.1 435.1,471.7 435.6,470.9 C436.1,470.1 437.5,468.0 438.0,468.5 C438.6,468.9 440.0,473.2 440.5,474.6 C441.0,475.9 442.5,479.4 443.0,480.7 C443.4,482.1 444.5,487.1 444.9,486.9 C445.3,486.6 446.3,481.1 446.6,478.3 C447.0,475.4 447.9,464.5 448.4,461.1 C448.8,457.7 449.9,449.5 450.3,447.6 C450.7,445.6 451.6,443.0 452.0,443.4 C452.4,443.8 453.5,449.5 454.0,451.3 C454.5,453.1 456.4,459.7 456.9,459.9 C457.5,460.0 458.9,453.6 459.4,452.5 C459.9,451.4 461.3,449.6 461.9,450.0 C462.4,450.5 463.8,454.7 464.3,456.2 C464.8,457.7 466.2,461.9 466.8,463.5 C467.3,465.2 468.6,469.6 469.2,470.9 C469.8,472.2 471.8,474.9 472.4,475.3 C473.0,475.7 474.3,475.3 474.9,474.6 C475.4,473.8 476.7,470.3 477.3,468.5 C477.9,466.6 479.8,458.9 480.5,457.4 C481.2,455.9 482.8,455.5 483.5,455.0 C484.1,454.4 485.7,453.0 486.4,452.5 C487.1,452.0 489.0,450.0 489.6,450.0 C490.2,450.0 491.5,451.6 492.0,452.5 C492.6,453.4 493.8,457.5 494.5,458.6 C495.2,459.8 497.4,462.4 498.2,463.1 C499.0,463.7 501.1,465.0 501.9,464.8 C502.6,464.6 504.4,462.0 505.1,461.1 C505.7,460.1 507.4,457.1 508.0,456.2 C508.6,455.2 510.3,453.2 510.9,452.5 C511.6,451.8 513.4,449.6 514.1,449.6 C514.8,449.5 516.7,451.4 517.3,451.8 C518.0,452.2 519.5,453.3 520.3,453.2 C521.0,453.2 523.3,450.9 524.0,451.3 C524.6,451.6 525.9,454.8 526.4,456.2 C526.9,457.5 528.4,461.9 528.9,463.5 C529.3,465.2 530.4,470.1 530.6,470.9" stroke="#1080d6" stroke-width="1.32"/>
<path d="M41.4,458.9 C41.7,458.0 43.1,453.3 43.7,451.4 C44.3,449.4 46.1,441.4 46.6,441.1 C47.2,440.9 48.4,446.7 48.9,449.1 C49.4,451.5 50.7,460.2 51.2,462.7 C51.7,465.3 53.0,471.5 53.5,472.3 C54.0,473.0 55.2,470.9 55.7,469.5 C56.3,468.2 57.9,461.4 58.5,460.0 C59.1,458.6 60.6,457.0 61.2,457.0 C61.7,457.1 63.0,459.7 63.5,460.5 C64.0,461.2 65.2,464.1 65.7,463.9 C66.3,463.6 68.0,460.2 68.7,458.2 C69.3,456.2 71.1,447.7 71.6,445.7 C72.2,443.7 73.0,440.0 73.5,440.0 C74.0,440.0 75.6,444.4 76.2,445.7 C76.8,446.9 78.2,450.7 78.9,451.4 C79.6,452.0 81.6,451.7 82.3,451.4 C83.1,451.1 85.0,448.5 85.7,448.6 C86.5,448.8 88.4,451.9 89.1,452.5 C89.9,453.1 91.8,453.6 92.5,453.6 C93.3,453.6 95.3,453.0 96.0,452.5 C96.6,452.0 97.7,449.8 98.2,449.1 C98.7,448.4 100.0,446.1 100.5,446.4 C101.0,446.6 102.2,449.9 102.8,451.4 C103.3,452.8 105.0,458.4 105.5,459.3 C106.0,460.3 106.9,460.9 107.3,460.0 C107.8,459.1 109.1,452.8 109.6,451.4 C110.1,449.9 111.4,446.9 111.9,446.8 C112.4,446.7 113.6,449.4 114.1,450.2 C114.6,451.1 115.8,454.5 116.4,454.3 C117.0,454.1 119.1,449.0 119.8,448.6 C120.5,448.3 121.9,450.7 122.5,451.4 C123.2,452.0 124.9,454.9 125.5,454.8 C126.1,454.6 127.3,450.9 127.8,450.2 C128.3,449.6 129.5,448.4 130.0,448.6 C130.5,448.9 131.7,451.4 132.3,452.5 C132.9,453.6 135.0,457.8 135.7,458.2 C136.5,458.6 138.5,456.3 139.1,455.9 C139.8,455.5 140.9,455.2 141.4,454.8 C142.0,454.3 143.6,451.8 144.1,451.8 C144.7,451.8 145.9,454.2 146.4,454.8 C146.9,455.3 148.2,456.7 148.7,456.6 C149.2,456.5 150.4,454.0 151.0,453.6 C151.5,453.3 153.3,453.1 153.9,453.6 C154.5,454.1 155.7,457.4 156.2,458.2 C156.7,458.9 158.0,460.3 158.5,460.5 C158.9,460.6 159.6,460.3 160.0,459.3 C160.4,458.3 161.8,451.2 162.3,451.4 C162.8,451.5 164.0,458.7 164.5,460.5 C165.1,462.3 166.6,467.5 167.3,467.7 C167.9,468.0 169.6,463.8 170.2,462.7 C170.9,461.7 172.6,459.2 173.2,458.2 C173.8,457.1 175.2,454.4 175.9,453.2 C176.6,452.0 178.6,447.4 179.3,447.5 C180.0,447.6 181.4,452.2 182.0,453.6 C182.7,455.1 184.4,459.3 185.0,460.5 C185.6,461.6 186.7,464.3 187.3,464.3 C187.8,464.3 189.4,461.6 190.0,460.5 C190.6,459.3 192.4,454.7 193.0,453.6 C193.5,452.6 194.7,450.9 195.2,450.9 C195.7,450.9 196.9,452.8 197.5,453.6 C198.1,454.4 199.8,457.6 200.5,458.2 C201.1,458.8 202.6,459.6 203.2,459.3 C203.8,459.1 205.3,456.5 205.9,455.9 C206.5,455.4 208.2,454.6 208.9,454.3 C209.5,454.1 211.2,453.5 211.8,453.6 C212.4,453.8 213.9,455.2 214.5,455.9 C215.2,456.7 217.3,459.8 218.0,460.5 C218.6,461.1 219.7,461.8 220.2,461.6 C220.8,461.3 222.5,458.9 223.2,458.2 C223.9,457.4 225.7,454.8 226.4,454.8 C227.0,454.7 228.7,456.9 229.3,457.7 C230.0,458.6 231.6,461.7 232.3,462.3 C232.9,462.9 234.4,463.6 235.0,463.2 C235.6,462.7 237.1,459.3 237.7,458.2 C238.4,457.1 240.1,453.4 240.7,453.2 C241.3,452.9 242.4,454.9 243.0,455.9 C243.5,457.0 245.3,462.5 245.9,462.7 C246.5,463.0 248.0,459.1 248.6,458.2 C249.2,457.3 250.8,454.6 251.4,454.8 C251.9,454.9 253.1,457.9 253.6,459.3 C254.2,460.7 256.1,466.1 256.6,467.3 C257.1,468.4 257.8,470.0 258.2,469.5 C258.6,469.0 259.9,464.1 260.5,462.7 C261.0,461.4 262.8,457.7 263.4,457.0 C264.0,456.3 265.1,456.2 265.7,456.4 C266.3,456.5 268.3,457.6 269.1,458.2 C269.8,458.8 271.8,460.8 272.5,461.6 C273.2,462.3 275.2,464.5 275.9,465.0 C276.6,465.5 278.2,466.4 278.6,466.1 C279.1,465.8 279.5,462.8 280.0,462.3 C280.5,461.7 282.8,460.9 283.4,461.1 C284.0,461.4 285.1,463.9 285.7,464.5 C286.3,465.2 288.0,467.2 288.6,466.8 C289.3,466.4 290.8,462.0 291.4,461.1 C292.0,460.3 293.5,459.2 294.1,458.9 C294.7,458.5 296.5,457.5 297.0,457.7 C297.6,458.0 298.8,459.6 299.3,461.1 C299.8,462.6 301.0,470.1 301.6,471.4 C302.2,472.6 304.0,473.8 304.5,472.5 C305.0,471.2 305.8,464.1 306.1,460.0 C306.5,455.9 307.4,440.4 307.7,435.0 C308.1,429.6 309.1,413.8 309.5,411.1 C310.0,408.4 311.4,409.6 311.8,410.5 C312.3,411.3 313.3,417.3 313.6,419.1 C314.0,420.9 314.8,425.7 315.2,427.0 C315.7,428.4 316.9,431.0 317.5,431.6 C318.1,432.2 319.8,432.2 320.5,432.7 C321.1,433.2 322.5,435.3 323.2,436.1 C323.9,437.0 325.8,439.6 326.6,440.7 C327.3,441.8 329.2,445.4 330.0,446.4 C330.8,447.4 332.7,448.9 333.4,449.8 C334.2,450.6 336.1,453.4 336.8,454.3 C337.6,455.2 339.5,457.6 340.2,458.2 C340.9,458.7 342.6,459.5 343.2,459.3 C343.8,459.1 345.4,457.4 345.9,456.6 C346.5,455.8 347.6,452.8 348.2,452.0 C348.7,451.3 350.4,449.4 350.9,449.8 C351.5,450.1 352.6,454.3 353.2,455.5 C353.8,456.6 355.4,459.0 356.1,460.0 C356.8,461.0 358.7,463.5 359.5,464.5 C360.4,465.6 362.9,469.8 363.6,469.5 C364.3,469.3 365.4,464.4 365.9,462.3 C366.5,460.1 368.1,450.5 368.6,449.8 C369.2,449.0 370.4,454.2 370.9,455.5 C371.4,456.7 372.7,460.4 373.2,461.1 C373.7,461.8 374.8,461.9 375.5,461.8 C376.1,461.7 378.1,460.4 378.9,460.0 C379.6,459.6 381.5,458.7 382.3,458.4 C383.0,458.2 385.0,457.6 385.7,457.7 C386.4,457.9 388.0,460.0 388.6,460.0 C389.3,460.0 390.7,458.2 391.4,457.7 C392.0,457.2 394.1,455.2 394.8,455.5 C395.4,455.7 396.4,458.9 397.0,460.0 C397.6,461.1 399.6,464.8 400.2,465.2 C400.8,465.7 402.1,464.9 402.6,464.1 C403.1,463.4 404.4,459.8 404.9,458.6 C405.4,457.4 406.8,453.4 407.4,453.2 C407.9,453.1 409.3,456.4 409.8,457.4 C410.3,458.4 411.3,461.9 411.8,462.3 C412.3,462.7 413.6,461.5 414.2,461.1 C414.8,460.7 416.5,458.6 417.2,458.6 C417.8,458.6 419.5,460.4 420.1,461.1 C420.8,461.8 422.7,465.0 423.3,464.8 C423.9,464.5 425.2,460.1 425.8,458.6 C426.3,457.2 427.8,452.3 428.2,451.3 C428.7,450.3 429.5,448.7 429.9,449.6 C430.4,450.4 431.9,456.7 432.4,458.6 C432.9,460.6 434.4,467.2 434.9,467.2 C435.3,467.2 436.3,460.8 436.8,458.6 C437.3,456.5 438.8,449.2 439.3,447.6 C439.8,446.0 440.7,444.1 441.2,444.4 C441.8,444.7 443.5,448.6 444.2,450.0 C444.8,451.5 446.5,456.2 447.1,457.4 C447.8,458.6 449.7,460.5 450.3,461.1 C450.9,461.7 452.2,463.3 452.8,463.1 C453.3,462.8 454.7,459.7 455.2,458.6 C455.8,457.6 457.1,453.9 457.7,453.7 C458.2,453.6 459.6,456.7 460.1,457.4 C460.7,458.1 462.0,460.3 462.6,459.9 C463.2,459.5 465.1,454.0 465.8,453.7 C466.5,453.5 468.0,456.6 468.7,457.4 C469.5,458.2 471.6,460.6 472.4,461.1 C473.2,461.6 475.4,462.2 476.1,462.3 C476.8,462.5 478.4,463.0 479.0,462.3 C479.7,461.6 481.5,457.0 482.2,456.2 C482.9,455.3 484.7,454.5 485.4,454.5 C486.1,454.5 487.6,455.7 488.4,456.2 C489.1,456.6 491.2,458.1 492.0,458.6 C492.9,459.2 495.0,461.1 495.7,461.1 C496.5,461.0 498.0,457.7 498.7,458.1 C499.3,458.6 501.2,464.3 501.9,464.8 C502.6,465.2 504.4,463.1 505.1,462.3 C505.7,461.5 507.1,458.3 507.5,457.4 C508.0,456.5 508.8,454.5 509.2,454.5 C509.7,454.5 511.1,456.5 511.7,457.4 C512.2,458.4 513.5,462.2 514.1,463.1 C514.8,463.9 516.7,465.0 517.3,464.8 C518.0,464.6 519.7,461.9 520.3,461.1 C520.8,460.3 521.8,457.7 522.2,457.4 C522.6,457.1 523.5,457.3 524.0,458.6 C524.4,460.0 525.9,467.5 526.4,469.7 C526.9,471.8 528.4,476.8 528.9,478.3 C529.3,479.7 530.4,482.2 530.6,482.7" stroke="#f2581d" stroke-width="1.18"/>
<path d="M41.4,462.7 C41.7,462.0 43.2,458.0 43.7,455.9 C44.2,453.8 45.4,445.7 46.0,443.4 C46.5,441.2 48.3,436.6 48.9,435.5 C49.5,434.3 51.0,433.1 51.6,433.2 C52.3,433.3 54.3,435.3 55.0,436.6 C55.8,437.8 57.7,442.7 58.5,444.5 C59.2,446.4 61.1,451.5 61.9,453.6 C62.6,455.8 64.5,461.7 65.3,463.9 C66.0,466.0 67.9,471.3 68.7,473.0 C69.4,474.6 71.3,476.8 72.1,478.6 C72.8,480.5 74.8,487.6 75.5,490.0 C76.2,492.4 77.8,500.7 78.5,500.7 C79.1,500.7 80.6,493.2 81.2,490.0 C81.7,486.8 82.9,475.6 83.5,471.8 C84.0,468.1 85.6,458.7 86.2,455.9 C86.8,453.2 88.4,448.6 89.1,446.8 C89.8,445.1 91.8,441.2 92.5,440.0 C93.3,438.8 95.3,436.2 96.0,435.5 C96.6,434.7 97.7,433.7 98.2,433.2 C98.8,432.7 100.6,430.9 101.2,430.9 C101.8,430.9 103.0,432.1 103.5,433.2 C103.9,434.3 105.1,439.9 105.5,441.1 C105.9,442.4 106.8,444.0 107.3,444.5 C107.8,445.0 109.6,444.4 110.3,445.7 C110.9,446.9 112.4,453.9 113.0,455.9 C113.6,457.9 115.0,463.4 115.7,463.9 C116.4,464.3 118.7,459.9 119.4,460.0 C120.1,460.1 121.5,463.7 122.1,465.0 C122.6,466.3 123.9,470.8 124.4,471.8 C124.9,472.9 126.1,474.5 126.6,474.5 C127.1,474.5 128.4,473.1 128.9,471.8 C129.5,470.5 131.0,464.1 131.6,462.7 C132.3,461.4 133.9,459.9 134.6,459.3 C135.3,458.7 137.2,457.7 138.0,457.0 C138.8,456.4 140.7,454.8 141.4,453.6 C142.1,452.5 143.7,448.1 144.4,446.8 C145.0,445.6 146.4,443.0 147.1,442.3 C147.8,441.6 149.8,440.5 150.5,440.5 C151.2,440.4 153.2,441.1 153.9,441.8 C154.7,442.5 156.7,445.8 157.3,446.8 C158.0,447.8 159.2,450.2 159.8,450.8 C160.4,451.4 162.1,451.7 162.7,452.5 C163.4,453.3 165.0,457.0 165.7,458.2 C166.3,459.4 168.0,462.7 168.6,463.2 C169.3,463.7 170.8,463.3 171.4,462.7 C172.0,462.1 173.5,458.4 174.1,457.7 C174.7,457.1 176.4,456.9 177.0,457.0 C177.7,457.2 179.4,458.9 180.0,459.3 C180.6,459.7 182.1,460.1 182.7,460.5 C183.3,460.8 184.8,462.1 185.5,462.3 C186.1,462.4 187.8,462.3 188.4,461.6 C189.1,460.9 190.7,457.0 191.4,455.9 C192.0,454.8 193.5,452.0 194.1,451.4 C194.6,450.7 195.8,450.0 196.4,450.2 C196.9,450.5 198.5,452.8 199.1,453.6 C199.7,454.5 201.4,457.7 202.0,457.7 C202.7,457.7 204.4,454.4 205.0,453.6 C205.6,452.9 207.1,451.1 207.7,450.9 C208.3,450.7 209.8,451.3 210.5,451.8 C211.1,452.4 212.8,455.2 213.4,455.9 C214.0,456.6 215.6,458.3 216.1,458.2 C216.7,458.1 218.1,455.2 218.6,454.8 C219.2,454.3 220.8,454.1 221.4,454.3 C222.0,454.6 223.5,456.9 224.1,457.0 C224.7,457.2 226.4,455.7 227.0,455.9 C227.7,456.2 229.1,458.2 229.8,459.3 C230.4,460.4 232.2,465.1 232.7,466.1 C233.3,467.1 234.4,468.8 235.0,468.4 C235.6,468.0 237.1,463.9 237.7,462.7 C238.4,461.6 240.0,458.1 240.7,457.7 C241.3,457.4 243.0,458.8 243.6,459.3 C244.3,459.9 245.8,462.6 246.4,462.7 C247.0,462.9 248.5,461.2 249.1,460.5 C249.7,459.7 251.4,456.7 252.0,455.9 C252.7,455.2 254.4,453.7 255.0,453.6 C255.6,453.6 257.1,455.3 257.7,455.5 C258.4,455.6 260.4,455.0 261.1,454.8 C261.8,454.5 263.5,453.6 264.1,453.2 C264.7,452.8 266.3,451.6 266.8,451.4 C267.4,451.1 268.6,450.4 269.1,450.9 C269.6,451.4 270.7,454.7 271.4,455.9 C272.0,457.1 274.1,460.7 274.8,461.6 C275.4,462.5 276.5,463.7 277.0,463.9 C277.6,464.1 279.4,463.6 280.0,463.3 C280.6,463.0 282.1,461.7 282.7,461.1 C283.4,460.5 285.1,458.9 285.7,457.7 C286.3,456.6 287.5,452.1 288.0,450.9 C288.5,449.7 289.7,447.5 290.2,447.0 C290.7,446.5 292.1,446.1 292.5,446.4 C292.9,446.7 293.7,450.5 294.1,449.8 C294.5,449.0 295.9,442.2 296.4,439.5 C296.9,436.9 298.2,428.2 298.6,425.9 C299.1,423.7 300.1,420.1 300.5,419.1 C300.9,418.1 301.9,416.4 302.3,416.8 C302.6,417.2 303.4,421.2 303.9,422.5 C304.3,423.8 305.6,427.1 306.1,428.2 C306.7,429.3 308.6,431.0 309.1,432.7 C309.6,434.5 310.3,441.3 310.7,444.1 C311.1,446.8 312.5,454.7 313.0,457.7 C313.5,460.7 314.7,468.6 315.2,471.4 C315.7,474.1 317.0,480.2 317.5,482.7 C318.0,485.2 319.2,491.5 319.8,494.1 C320.3,496.7 322.1,504.7 322.6,506.1 C323.2,507.6 324.5,508.5 324.9,507.4 C325.3,506.3 325.8,499.3 326.1,496.4 C326.4,493.4 327.4,483.2 327.7,480.5 C328.1,477.7 328.9,471.7 329.3,471.4 C329.7,471.0 330.7,476.3 331.1,477.0 C331.6,477.8 332.9,480.1 333.4,478.2 C333.9,476.3 335.2,463.8 335.7,460.0 C336.2,456.2 337.5,447.1 338.0,444.1 C338.5,441.1 339.7,434.7 340.2,432.7 C340.7,430.7 342.1,426.8 342.5,425.9 C342.9,425.0 343.9,423.8 344.3,424.3 C344.7,424.8 345.9,428.3 346.4,430.5 C346.8,432.6 347.8,441.6 348.2,444.1 C348.6,446.6 349.6,450.9 350.0,453.2 C350.4,455.4 351.8,462.0 352.3,464.5 C352.8,467.0 354.0,473.8 354.5,475.9 C355.0,478.0 356.3,482.7 356.8,483.9 C357.4,485.0 358.9,485.6 359.5,486.1 C360.2,486.6 362.3,489.0 363.0,488.4 C363.6,487.8 364.7,482.6 365.2,480.5 C365.7,478.3 367.0,471.3 367.5,469.1 C368.0,466.8 369.3,461.8 369.8,460.0 C370.3,458.2 371.5,454.7 372.0,453.2 C372.6,451.7 374.4,447.9 375.0,446.4 C375.6,444.9 377.1,440.5 377.7,439.5 C378.3,438.5 379.9,437.3 380.5,437.3 C381.0,437.3 382.2,438.3 382.7,439.5 C383.2,440.8 384.5,446.4 385.0,448.6 C385.5,450.9 386.7,457.6 387.3,460.0 C387.8,462.4 389.5,468.9 390.2,470.2 C390.9,471.6 392.9,471.9 393.6,472.5 C394.4,473.1 396.3,475.1 397.0,475.9 C397.7,476.7 399.4,479.5 400.0,479.4 C400.6,479.3 402.1,476.4 402.6,475.3 C403.1,474.2 404.4,471.0 404.9,469.7 C405.4,468.4 406.8,464.9 407.4,463.5 C407.9,462.2 409.3,458.8 409.8,457.4 C410.4,456.1 411.7,452.5 412.3,451.3 C412.8,450.0 414.2,446.5 414.7,445.9 C415.3,445.2 416.6,444.7 417.2,445.1 C417.7,445.6 419.0,448.8 419.6,450.0 C420.2,451.3 421.9,455.1 422.6,456.2 C423.3,457.3 425.1,459.2 425.8,459.9 C426.5,460.5 428.3,461.6 429.0,462.3 C429.6,463.0 431.3,465.5 431.9,466.0 C432.6,466.5 434.2,467.6 434.9,467.2 C435.5,466.8 437.4,463.3 438.0,462.3 C438.7,461.4 440.0,458.5 440.5,458.6 C441.0,458.8 442.4,462.5 443.0,463.5 C443.5,464.6 444.9,468.6 445.4,468.5 C445.9,468.3 447.3,463.7 447.9,462.3 C448.4,461.0 449.8,457.0 450.3,456.2 C450.9,455.4 452.2,454.7 452.8,455.0 C453.3,455.2 454.7,458.4 455.2,458.6 C455.8,458.9 457.1,457.8 457.7,457.4 C458.2,457.0 459.5,455.1 460.1,455.0 C460.8,454.8 462.7,455.8 463.3,456.2 C464.0,456.6 465.6,457.8 466.3,458.6 C466.9,459.4 468.5,462.7 469.2,463.5 C469.9,464.4 471.7,466.2 472.4,466.5 C473.1,466.8 474.9,466.6 475.6,466.0 C476.3,465.4 477.9,462.2 478.5,461.1 C479.2,460.0 480.8,456.9 481.5,456.2 C482.2,455.5 484.0,454.6 484.7,454.5 C485.4,454.3 487.2,454.7 487.9,455.0 C488.5,455.2 490.1,456.2 490.8,456.9 C491.5,457.6 493.7,460.4 494.5,461.1 C495.3,461.8 497.4,462.7 498.2,463.1 C499.0,463.4 501.1,464.3 501.9,464.0 C502.6,463.8 504.4,461.8 505.1,461.1 C505.7,460.4 507.4,458.0 508.0,457.4 C508.6,456.8 510.3,455.7 510.9,455.7 C511.6,455.7 513.4,457.0 514.1,457.4 C514.8,457.9 516.7,459.9 517.3,459.9 C518.0,459.9 519.7,457.8 520.3,457.4 C520.9,457.0 522.2,455.9 522.7,456.2 C523.3,456.5 524.6,458.8 525.2,459.9 C525.7,460.9 527.0,464.6 527.6,466.0 C528.2,467.4 530.3,472.1 530.6,472.9" stroke="#fbb017" stroke-width="1.18"/>
</g>
<path d="M39.6,650.3v-4.6M39.6,363.3v4.6" stroke="#4a4a4a" stroke-width="1" fill="none"/>
<path d="M88.7,650.3v-4.6M88.7,363.3v4.6" stroke="#4a4a4a" stroke-width="1" fill="none"/>
<path d="M137.9,650.3v-4.6M137.9,363.3v4.6" stroke="#4a4a4a" stroke-width="1" fill="none"/>
<path d="M187.0,650.3v-4.6M187.0,363.3v4.6" stroke="#4a4a4a" stroke-width="1" fill="none"/>
<path d="M236.1,650.3v-4.6M236.1,363.3v4.6" stroke="#4a4a4a" stroke-width="1" fill="none"/>
<path d="M285.2,650.3v-4.6M285.2,363.3v4.6" stroke="#4a4a4a" stroke-width="1" fill="none"/>
<path d="M334.4,650.3v-4.6M334.4,363.3v4.6" stroke="#4a4a4a" stroke-width="1" fill="none"/>
<path d="M383.5,650.3v-4.6M383.5,363.3v4.6" stroke="#4a4a4a" stroke-width="1" fill="none"/>
<path d="M432.6,650.3v-4.6M432.6,363.3v4.6" stroke="#4a4a4a" stroke-width="1" fill="none"/>
<path d="M481.8,650.3v-4.6M481.8,363.3v4.6" stroke="#4a4a4a" stroke-width="1" fill="none"/>
<path d="M530.9,650.3v-4.6M530.9,363.3v4.6" stroke="#4a4a4a" stroke-width="1" fill="none"/>
<path d="M51.9,650.3v-2.5M51.9,363.3v2.5" stroke="#4a4a4a" stroke-width="1" fill="none"/>
<path d="M64.2,650.3v-2.5M64.2,363.3v2.5" stroke="#4a4a4a" stroke-width="1" fill="none"/>
<path d="M76.4,650.3v-2.5M76.4,363.3v2.5" stroke="#4a4a4a" stroke-width="1" fill="none"/>
<path d="M101.0,650.3v-2.5M101.0,363.3v2.5" stroke="#4a4a4a" stroke-width="1" fill="none"/>
<path d="M113.3,650.3v-2.5M113.3,363.3v2.5" stroke="#4a4a4a" stroke-width="1" fill="none"/>
<path d="M125.6,650.3v-2.5M125.6,363.3v2.5" stroke="#4a4a4a" stroke-width="1" fill="none"/>
<path d="M150.1,650.3v-2.5M150.1,363.3v2.5" stroke="#4a4a4a" stroke-width="1" fill="none"/>
<path d="M162.4,650.3v-2.5M162.4,363.3v2.5" stroke="#4a4a4a" stroke-width="1" fill="none"/>
<path d="M174.7,650.3v-2.5M174.7,363.3v2.5" stroke="#4a4a4a" stroke-width="1" fill="none"/>
<path d="M199.3,650.3v-2.5M199.3,363.3v2.5" stroke="#4a4a4a" stroke-width="1" fill="none"/>
<path d="M211.6,650.3v-2.5M211.6,363.3v2.5" stroke="#4a4a4a" stroke-width="1" fill="none"/>
<path d="M223.8,650.3v-2.5M223.8,363.3v2.5" stroke="#4a4a4a" stroke-width="1" fill="none"/>
<path d="M248.4,650.3v-2.5M248.4,363.3v2.5" stroke="#4a4a4a" stroke-width="1" fill="none"/>
<path d="M260.7,650.3v-2.5M260.7,363.3v2.5" stroke="#4a4a4a" stroke-width="1" fill="none"/>
<path d="M273.0,650.3v-2.5M273.0,363.3v2.5" stroke="#4a4a4a" stroke-width="1" fill="none"/>
<path d="M297.5,650.3v-2.5M297.5,363.3v2.5" stroke="#4a4a4a" stroke-width="1" fill="none"/>
<path d="M309.8,650.3v-2.5M309.8,363.3v2.5" stroke="#4a4a4a" stroke-width="1" fill="none"/>
<path d="M322.1,650.3v-2.5M322.1,363.3v2.5" stroke="#4a4a4a" stroke-width="1" fill="none"/>
<path d="M346.7,650.3v-2.5M346.7,363.3v2.5" stroke="#4a4a4a" stroke-width="1" fill="none"/>
<path d="M358.9,650.3v-2.5M358.9,363.3v2.5" stroke="#4a4a4a" stroke-width="1" fill="none"/>
<path d="M371.2,650.3v-2.5M371.2,363.3v2.5" stroke="#4a4a4a" stroke-width="1" fill="none"/>
<path d="M395.8,650.3v-2.5M395.8,363.3v2.5" stroke="#4a4a4a" stroke-width="1" fill="none"/>
<path d="M408.1,650.3v-2.5M408.1,363.3v2.5" stroke="#4a4a4a" stroke-width="1" fill="none"/>
<path d="M420.4,650.3v-2.5M420.4,363.3v2.5" stroke="#4a4a4a" stroke-width="1" fill="none"/>
<path d="M444.9,650.3v-2.5M444.9,363.3v2.5" stroke="#4a4a4a" stroke-width="1" fill="none"/>
<path d="M457.2,650.3v-2.5M457.2,363.3v2.5" stroke="#4a4a4a" stroke-width="1" fill="none"/>
<path d="M469.5,650.3v-2.5M469.5,363.3v2.5" stroke="#4a4a4a" stroke-width="1" fill="none"/>
<path d="M494.1,650.3v-2.5M494.1,363.3v2.5" stroke="#4a4a4a" stroke-width="1" fill="none"/>
<path d="M506.3,650.3v-2.5M506.3,363.3v2.5" stroke="#4a4a4a" stroke-width="1" fill="none"/>
<path d="M518.6,650.3v-2.5M518.6,363.3v2.5" stroke="#4a4a4a" stroke-width="1" fill="none"/>
<path d="M39.6,650.3h4.6M530.9,650.3h-4.6" stroke="#4a4a4a" stroke-width="1" fill="none"/>
<path d="M39.6,602.5h4.6M530.9,602.5h-4.6" stroke="#4a4a4a" stroke-width="1" fill="none"/>
<path d="M39.6,554.6h4.6M530.9,554.6h-4.6" stroke="#4a4a4a" stroke-width="1" fill="none"/>
<path d="M39.6,506.8h4.6M530.9,506.8h-4.6" stroke="#4a4a4a" stroke-width="1" fill="none"/>
<path d="M39.6,459.0h4.6M530.9,459.0h-4.6" stroke="#4a4a4a" stroke-width="1" fill="none"/>
<path d="M39.6,411.1h4.6M530.9,411.1h-4.6" stroke="#4a4a4a" stroke-width="1" fill="none"/>
<path d="M39.6,363.3h4.6M530.9,363.3h-4.6" stroke="#4a4a4a" stroke-width="1" fill="none"/>
<path d="M39.6,372.9h2.5M530.9,372.9h-2.5" stroke="#4a4a4a" stroke-width="1" fill="none"/>
<path d="M39.6,382.4h2.5M530.9,382.4h-2.5" stroke="#4a4a4a" stroke-width="1" fill="none"/>
<path d="M39.6,392.0h2.5M530.9,392.0h-2.5" stroke="#4a4a4a" stroke-width="1" fill="none"/>
<path d="M39.6,401.6h2.5M530.9,401.6h-2.5" stroke="#4a4a4a" stroke-width="1" fill="none"/>
<path d="M39.6,420.7h2.5M530.9,420.7h-2.5" stroke="#4a4a4a" stroke-width="1" fill="none"/>
<path d="M39.6,430.3h2.5M530.9,430.3h-2.5" stroke="#4a4a4a" stroke-width="1" fill="none"/>
<path d="M39.6,439.8h2.5M530.9,439.8h-2.5" stroke="#4a4a4a" stroke-width="1" fill="none"/>
<path d="M39.6,449.4h2.5M530.9,449.4h-2.5" stroke="#4a4a4a" stroke-width="1" fill="none"/>
<path d="M39.6,468.5h2.5M530.9,468.5h-2.5" stroke="#4a4a4a" stroke-width="1" fill="none"/>
<path d="M39.6,478.1h2.5M530.9,478.1h-2.5" stroke="#4a4a4a" stroke-width="1" fill="none"/>
<path d="M39.6,487.7h2.5M530.9,487.7h-2.5" stroke="#4a4a4a" stroke-width="1" fill="none"/>
<path d="M39.6,497.2h2.5M530.9,497.2h-2.5" stroke="#4a4a4a" stroke-width="1" fill="none"/>
<path d="M39.6,516.4h2.5M530.9,516.4h-2.5" stroke="#4a4a4a" stroke-width="1" fill="none"/>
<path d="M39.6,525.9h2.5M530.9,525.9h-2.5" stroke="#4a4a4a" stroke-width="1" fill="none"/>
<path d="M39.6,535.5h2.5M530.9,535.5h-2.5" stroke="#4a4a4a" stroke-width="1" fill="none"/>
<path d="M39.6,545.1h2.5M530.9,545.1h-2.5" stroke="#4a4a4a" stroke-width="1" fill="none"/>
<path d="M39.6,564.2h2.5M530.9,564.2h-2.5" stroke="#4a4a4a" stroke-width="1" fill="none"/>
<path d="M39.6,573.8h2.5M530.9,573.8h-2.5" stroke="#4a4a4a" stroke-width="1" fill="none"/>
<path d="M39.6,583.3h2.5M530.9,583.3h-2.5" stroke="#4a4a4a" stroke-width="1" fill="none"/>
<path d="M39.6,592.9h2.5M530.9,592.9h-2.5" stroke="#4a4a4a" stroke-width="1" fill="none"/>
<path d="M39.6,612.0h2.5M530.9,612.0h-2.5" stroke="#4a4a4a" stroke-width="1" fill="none"/>
<path d="M39.6,621.6h2.5M530.9,621.6h-2.5" stroke="#4a4a4a" stroke-width="1" fill="none"/>
<path d="M39.6,631.2h2.5M530.9,631.2h-2.5" stroke="#4a4a4a" stroke-width="1" fill="none"/>
<path d="M39.6,640.7h2.5M530.9,640.7h-2.5" stroke="#4a4a4a" stroke-width="1" fill="none"/>
<rect x="39.6" y="363.3" width="491.3" height="287.0" fill="none" stroke="#4a4a4a" stroke-width="1.1"/>
<text x="39.6" y="667.0" text-anchor="middle" font-size="13.0" font-family="Liberation Serif, serif" font-weight="bold" textLength="6.9" lengthAdjust="spacingAndGlyphs">0</text>
<text x="88.7" y="667.0" text-anchor="middle" font-size="13.0" font-family="Liberation Serif, serif" font-weight="bold" textLength="22.3" lengthAdjust="spacingAndGlyphs">200</text>
<text x="137.9" y="667.0" text-anchor="middle" font-size="13.0" font-family="Liberation Serif, serif" font-weight="bold" textLength="22.3" lengthAdjust="spacingAndGlyphs">400</text>
<text x="187.0" y="667.0" text-anchor="middle" font-size="13.0" font-family="Liberation Serif, serif" font-weight="bold" textLength="22.3" lengthAdjust="spacingAndGlyphs">600</text>
<text x="236.1" y="667.0" text-anchor="middle" font-size="13.0" font-family="Liberation Serif, serif" font-weight="bold" textLength="22.3" lengthAdjust="spacingAndGlyphs">800</text>
<text x="285.2" y="667.0" text-anchor="middle" font-size="13.0" font-family="Liberation Serif, serif" font-weight="bold" textLength="29.6" lengthAdjust="spacingAndGlyphs">1000</text>
<text x="334.4" y="667.0" text-anchor="middle" font-size="13.0" font-family="Liberation Serif, serif" font-weight="bold" textLength="29.6" lengthAdjust="spacingAndGlyphs">1200</text>
<text x="383.5" y="667.0" text-anchor="middle" font-size="13.0" font-family="Liberation Serif, serif" font-weight="bold" textLength="29.6" lengthAdjust="spacingAndGlyphs">1400</text>
<text x="432.6" y="667.0" text-anchor="middle" font-size="13.0" font-family="Liberation Serif, serif" font-weight="bold" textLength="29.6" lengthAdjust="spacingAndGlyphs">1600</text>
<text x="481.8" y="667.0" text-anchor="middle" font-size="13.0" font-family="Liberation Serif, serif" font-weight="bold" textLength="29.6" lengthAdjust="spacingAndGlyphs">1800</text>
<text x="530.9" y="667.0" text-anchor="middle" font-size="13.0" font-family="Liberation Serif, serif" font-weight="bold" textLength="29.6" lengthAdjust="spacingAndGlyphs">2000</text>
<text x="35.3" y="654.9" text-anchor="end" font-size="13.0" font-family="Liberation Serif, serif" font-weight="bold" textLength="10.9" lengthAdjust="spacingAndGlyphs">-4</text>
<text x="35.3" y="607.1" text-anchor="end" font-size="13.0" font-family="Liberation Serif, serif" font-weight="bold" textLength="10.9" lengthAdjust="spacingAndGlyphs">-3</text>
<text x="35.3" y="559.2" text-anchor="end" font-size="13.0" font-family="Liberation Serif, serif" font-weight="bold" textLength="10.9" lengthAdjust="spacingAndGlyphs">-2</text>
<text x="35.3" y="511.4" text-anchor="end" font-size="13.0" font-family="Liberation Serif, serif" font-weight="bold" textLength="10.9" lengthAdjust="spacingAndGlyphs">-1</text>
<text x="35.3" y="463.6" text-anchor="end" font-size="13.0" font-family="Liberation Serif, serif" font-weight="bold" textLength="6.9" lengthAdjust="spacingAndGlyphs">0</text>
<text x="35.3" y="415.7" text-anchor="end" font-size="13.0" font-family="Liberation Serif, serif" font-weight="bold" textLength="6.9" lengthAdjust="spacingAndGlyphs">1</text>
<text x="35.3" y="367.9" text-anchor="end" font-size="13.0" font-family="Liberation Serif, serif" font-weight="bold" textLength="6.9" lengthAdjust="spacingAndGlyphs">2</text>
<rect x="46.4" y="589.5" width="265.8" height="50.6" fill="#fff" stroke="#454545" stroke-width="1.05"/>
<line x1="48.0" y1="598.2" x2="62.6" y2="598.2" stroke="#1080d6" stroke-width="1.4200000000000002"/>
<text x="64.3" y="603.2" font-size="13.6" font-family="Liberation Serif, serif" font-weight="bold" textLength="185.1" lengthAdjust="spacingAndGlyphs">Velocity error of PID strategy</text>
<line x1="48.0" y1="614.9" x2="62.6" y2="614.9" stroke="#f2581d" stroke-width="1.28"/>
<text x="64.3" y="620.0" font-size="13.6" font-family="Liberation Serif, serif" font-weight="bold" textLength="245.4" lengthAdjust="spacingAndGlyphs">Velocity error of Dynamic feedforward</text>
<line x1="48.0" y1="631.6" x2="62.6" y2="631.6" stroke="#fbb017" stroke-width="1.28"/>
<text x="64.3" y="636.8" font-size="13.6" font-family="Liberation Serif, serif" font-weight="bold" textLength="214.0" lengthAdjust="spacingAndGlyphs">Velocity error of Real-time robust</text>
<text x="285.15" y="682.6" text-anchor="middle" font-size="13.5" font-family="Liberation Serif, serif" font-weight="bold" textLength="59.9" lengthAdjust="spacingAndGlyphs">Time (ms)</text>
<text transform="translate(18.6,507) rotate(-90)" text-anchor="middle" font-size="14.6" font-family="Liberation Serif, serif" font-weight="bold" textLength="86.6" lengthAdjust="spacingAndGlyphs">Error (mm/s)</text>
<text x="277.7" y="704.2" text-anchor="middle" font-size="16" font-family="Liberation Serif, serif" fill="#222" stroke="#222" stroke-width="0.2">(<tspan font-weight="bold">b</tspan>)</text>
</svg>
</body></html>
